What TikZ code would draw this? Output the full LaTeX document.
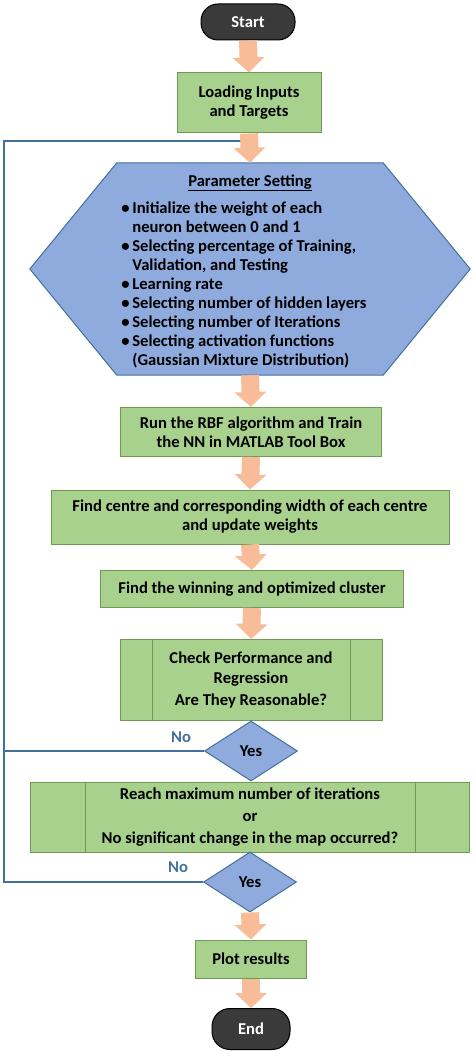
\documentclass[tikz,border=0pt]{standalone}
\usepackage{fontspec}
\setmainfont{Carlito}
\usetikzlibrary{arrows.meta,shapes.geometric,calc}

\definecolor{boxgreen}{HTML}{A9D18E}
\definecolor{edgegreen}{HTML}{6F9A50}
\definecolor{boxblue}{HTML}{8FAADC}
\definecolor{edgeblue}{HTML}{41719C}
\definecolor{flowpeach}{HTML}{F8BC98}
\definecolor{termgray}{HTML}{3A3A3A}

\tikzset{
  x=1pt, y=-1pt,
  every node/.style={font=\bfseries\fontsize{16.6}{19}\selectfont, align=center},
  greenbox/.style={draw=edgegreen, fill=boxgreen, line width=1pt, inner sep=0pt},
  terminal/.style={draw=black, fill=termgray, text=white, rounded corners=17pt, line width=1pt, inner sep=0pt},
  decision/.style={diamond, draw=edgeblue, fill=boxblue, line width=1pt, inner sep=0pt, aspect=1.55},
  flow/.style={flowpeach, line width=18pt, -{Triangle[length=15pt,width=31pt]}},
  loopline/.style={edgeblue, line width=1.6pt},
  nolabel/.style={text=edgeblue},
}

\begin{document}
\begin{tikzpicture}
  \useasboundingbox (0,0) rectangle (474,1051);

  %% terminals and process boxes
  \node [terminal, minimum width=94, minimum height=36] (start) at (248,22) {Start};
  \node [greenbox, minimum width=144, minimum height=60] (load) at (249,103) {Loading Inputs\\and Targets};
  \node [minimum width=266, minimum height=212, inner sep=0pt] (param) at (250,269) {};
  \node [greenbox, minimum width=261, minimum height=49] (rbf) at (251,432) {Run the RBF algorithm and Train\\the NN in MATLAB Tool Box};
  \node [greenbox, minimum width=398, minimum height=54] (centre) at (250,517) {Find centre and corresponding width of each centre\\and update weights};
  \node [greenbox, minimum width=303, minimum height=37] (win) at (252,589) {Find the winning and optimized cluster};
  \node [greenbox, minimum width=262, minimum height=81] (check) at (251,680) {Check Performance and\\[1pt]Regression\\[3pt]Are They Reasonable?};
  \node [decision, minimum width=93, minimum height=60] (dec1) at (251,751) {Yes};
  \node [greenbox, minimum width=439, minimum height=70] (reach) at (250,817) {Reach maximum number of iterations\\[3pt]or\\[3pt]No significant change in the map occurred?};
  \node [decision, minimum width=93, minimum height=60] (dec2) at (250,882) {Yes};
  \node [greenbox, minimum width=111, minimum height=38] (plot) at (251,959) {Plot results};
  \node [terminal, minimum width=78, minimum height=41, rounded corners=18pt] (end) at (251,1029) {End};

  %% hexagon round the parameter block
  \draw [draw=edgeblue, fill=boxblue, line width=1pt]
    (param.north west) -- (param.north east) -- ($(param.east)+(87,0)$)
    -- (param.south east) -- (param.south west) -- ($(param.west)+(-87,0)$) -- cycle;
  \node [anchor=north] (ptitle) at ($(param.north)+(0,8)$) {\underline{Parameter Setting}};
  \node [anchor=north west, align=left] (plist) at ($(param.north west)+(1,35)$) {%
    \textbullet\,Initialize the weight of each\\
    \hphantom{\textbullet\,}neuron between 0 and 1\\
    \textbullet\,Selecting percentage of Training,\\
    \hphantom{\textbullet\,}Validation, and Testing\\
    \textbullet\,Learning rate\\
    \textbullet\,Selecting number of hidden layers\\
    \textbullet\,Selecting number of Iterations\\
    \textbullet\,Selecting activation functions\\
    \hphantom{\textbullet\,}(Gaussian Mixture Distribution)};

  %% side bars of the predefined process boxes
  \draw [edgegreen, line width=1pt] ($(check.north west)+(33,0)$) -- ($(check.south west)+(33,0)$);
  \draw [edgegreen, line width=1pt] ($(check.north east)+(-32,0)$) -- ($(check.south east)+(-32,0)$);
  \draw [edgegreen, line width=1pt] ($(reach.north west)+(55,0)$) -- ($(reach.south west)+(55,0)$);
  \draw [edgegreen, line width=1pt] ($(reach.north east)+(-55,0)$) -- ($(reach.south east)+(-55,0)$);

  %% feedback line
  \coordinate (loopin) at (241,141);
  \coordinate (loopcorner) at (4,141);
  \draw [loopline] (dec2.west) -| (loopcorner) -- (loopin);
  \draw [loopline] (dec1.west) -- (dec1.west -| loopcorner);
  \node [nolabel] (no1) at (181,737) {No};
  \node [nolabel] (no2) at (178,867) {No};

  %% block arrows
  \draw [flow] (start.south) -- (load.north);
  \draw [flow] (load.south) -- (param.north);
  \draw [flow] (param.south) -- (rbf.north);
  \draw [flow] (rbf.south) -- (centre.north);
  \draw [flow] (centre.south) -- (win.north);
  \draw [flow] (win.south) -- (check.north);
  \draw [flow] (dec2.south) -- (plot.north);
  \draw [flow] (plot.south) -- (end.north);
\end{tikzpicture}
\end{document}
